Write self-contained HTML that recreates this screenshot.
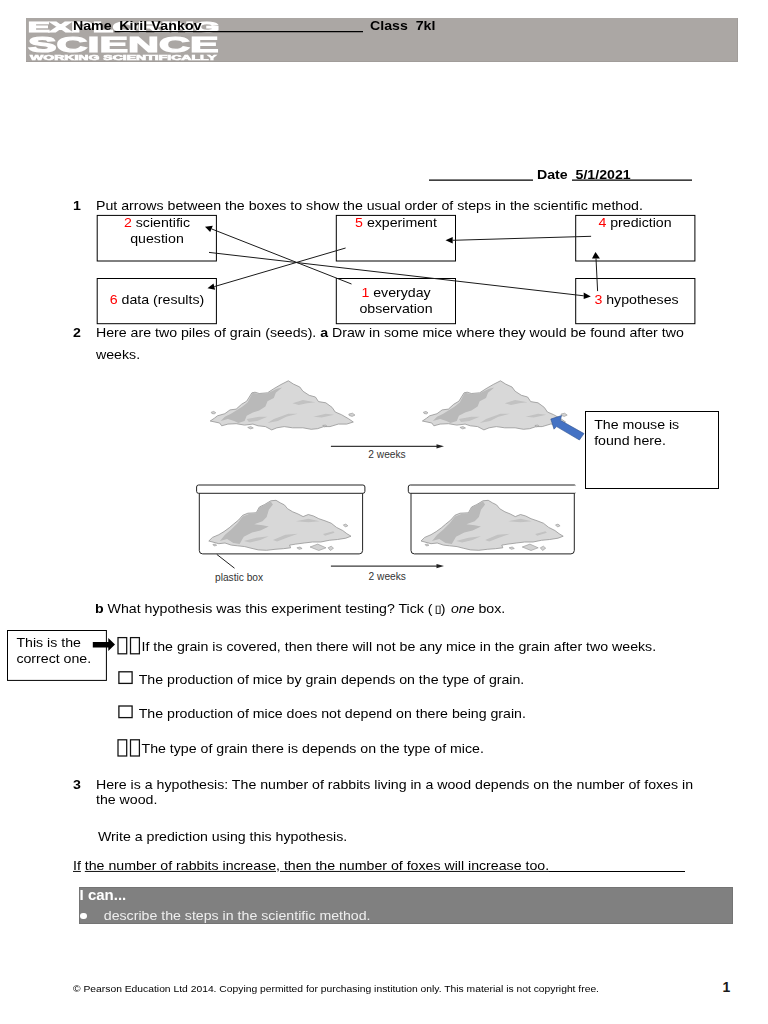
<!DOCTYPE html>
<html><head><meta charset="utf-8">
<style>
html,body{margin:0;padding:0;background:#fff;}
body{width:768px;height:1024px;position:relative;overflow:hidden;font-family:"Liberation Sans",sans-serif;color:#000;font-size:14.17px;}
.a{position:absolute;white-space:nowrap;line-height:1;}
.t{transform:scaleY(0.943);transform-origin:0 84.65%;}
.b{font-weight:bold;}
.r{color:#f00;}
.box{position:absolute;border:1px solid #000;box-sizing:border-box;background:transparent;}
.hdr{position:absolute;left:26px;top:18px;width:712px;height:44px;background:#aba7a4;box-shadow:inset -1px -1px 0 #a19d9a;}
.logo{position:absolute;color:#fff;font-weight:bold;white-space:nowrap;line-height:1;transform-origin:0 0;}
svg{position:absolute;left:0;top:0;}
</style></head><body>
<div class="hdr"></div>
<div class="logo" style="left:28.3px;top:19.5px;font-size:14.3px;transform:scale(2.27,1);-webkit-text-stroke:1.1px #fff;">EXPLORING</div>
<div class="logo" style="left:28.2px;top:33.1px;font-size:22.8px;transform:scale(1.88,1);-webkit-text-stroke:1.2px #fff;">SCIENCE</div>
<div class="logo" style="left:30px;top:55.2px;font-size:6.6px;transform:scale(2.13,1);-webkit-text-stroke:0.55px #fff;">WORKING SCIENTIFICALLY</div>

<div class="a b t" style="left:73px;top:17.9px;">Name</div>
<div class="a b t" style="left:119.2px;top:17.9px;letter-spacing:0.12px;">Kiril Vankov</div>
<div class="a b t" style="left:370px;top:17.9px;">Class&nbsp; 7kl</div>

<div class="a b t" style="left:537px;top:167.2px;">Date &nbsp;5/1/2021</div>

<div class="a b t" style="left:73px;top:197.7px;">1</div>
<div class="a t" style="left:96px;top:197.7px;">Put arrows between the boxes to show the usual order of steps in the scientific method.</div>


<div class="a t" style="left:97px;width:120px;top:214.9px;text-align:center;"><span class="r">2</span> scientific</div>
<div class="a t" style="left:97px;width:120px;top:231.0px;text-align:center;">question</div>
<div class="a t" style="left:336px;width:120px;top:214.9px;text-align:center;"><span class="r">5</span> experiment</div>
<div class="a t" style="left:575px;width:120px;top:214.9px;text-align:center;"><span class="r">4</span> prediction</div>
<div class="a t" style="left:97px;width:120px;top:292.3px;text-align:center;"><span class="r">6</span> data (results)</div>
<div class="a t" style="left:336px;width:120px;top:284.9px;text-align:center;"><span class="r">1</span> everyday</div>
<div class="a t" style="left:336px;width:120px;top:300.5px;text-align:center;">observation</div>
<div class="a t" style="left:576.5px;width:120px;top:292.3px;text-align:center;"><span class="r">3</span> hypotheses</div>

<div class="a b t" style="left:73px;top:324.7px;">2</div>
<div class="a t" style="left:96px;top:324.7px;">Here are two piles of grain (seeds). <b>a</b> Draw in some mice where they would be found after two</div>
<div class="a t" style="left:96px;top:347.2px;">weeks.</div>

<div class="box" style="left:585px;top:411px;width:134px;height:78px;"></div>
<div class="a t" style="left:594.2px;top:416.6px;">The mouse is</div>
<div class="a t" style="left:594.2px;top:432.5px;">found here.</div>

<div class="a t" style="left:95px;top:601.2px;"><b>b</b> What hypothesis was this experiment testing? Tick (<svg style="position:static;vertical-align:-1.6px" width="8.2" height="10" viewBox="0 0 8.2 10"><rect x="3.2" y="0.5" width="3.9" height="8" fill="none" stroke="#222" stroke-width="1"/></svg>)<span style="display:inline-block;width:1.5px"></span> <i>one</i> box.</div>

<div class="a t" style="left:16.4px;top:634.9px;">This is the</div>
<div class="a t" style="left:16.4px;top:650.8px;">correct one.</div>

<div class="a t" style="left:141.5px;top:638.7px;">If the grain is covered, then there will not be any mice in the grain after two weeks.</div>
<div class="a t" style="left:138.7px;top:671.8px;">The production of mice by grain depends on the type of grain.</div>
<div class="a t" style="left:138.7px;top:706.3px;">The production of mice does not depend on there being grain.</div>
<div class="a t" style="left:141.5px;top:740.9px;">The type of grain there is depends on the type of mice.</div>

<div class="a b t" style="left:73px;top:776.6px;">3</div>
<div class="a t" style="left:96px;top:776.6px;">Here is a hypothesis: The number of rabbits living in a wood depends on the number of foxes in</div>
<div class="a t" style="left:96px;top:791.6px;">the wood.</div>
<div class="a t" style="left:98px;top:828.8px;">Write a prediction using this hypothesis.</div>
<div class="a t" style="left:73px;top:858.3px;"><u>If</u> <u>the number of rabbits increase, then the number of foxes will increase too.</u></div>
<div class="a" style="left:549px;top:871px;width:136px;height:1px;background:#000;"></div>

<div class="a" style="left:78.5px;top:887px;width:654.5px;height:36.6px;background:#808080;box-shadow:inset 0 0 0 1px #747474;"></div>
<div class="a b t" style="left:79.6px;top:886.8px;color:#fff;font-size:15px;">I can...</div>
<div class="a" style="left:80.4px;top:913.2px;width:6.2px;height:6.2px;border-radius:50%;background:#fff;"></div>
<div class="a t" style="left:103.8px;top:907.5px;color:#eee;">describe the steps in the scientific method.</div>

<div class="a t" style="left:73px;top:984.1px;font-size:10.32px;">© Pearson Education Ltd 2014. Copying permitted for purchasing institution only. This material is not copyright free.</div>
<div class="a b" style="left:722.6px;top:979.8px;font-size:14px;color:#1a1a1a;">1</div>

<svg width="768" height="1024" viewBox="0 0 768 1024">
<defs><clipPath id="cp"><rect x="150" y="470" width="213.6" height="100"/></clipPath><filter id="bl" x="-5%" y="-5%" width="110%" height="110%"><feGaussianBlur stdDeviation="0.35"/></filter><filter id="bl2" x="-10%" y="-10%" width="120%" height="120%"><feGaussianBlur stdDeviation="0.7"/></filter></defs>
<line x1="429" y1="180.1" x2="533" y2="180.1" stroke="#000" stroke-width="1.2"/>
<line x1="572" y1="180.1" x2="692" y2="180.1" stroke="#000" stroke-width="1.2"/>
<line x1="114.5" y1="31.7" x2="363" y2="31.7" stroke="#000" stroke-width="1.3"/>
<rect x="97.2" y="215.4" width="119.2" height="45.6" fill="none" stroke="#000" stroke-width="1"/>
<rect x="97.2" y="278.5" width="119.2" height="45.2" fill="none" stroke="#000" stroke-width="1"/>
<rect x="336.3" y="215.4" width="119.2" height="45.6" fill="none" stroke="#000" stroke-width="1"/>
<rect x="336.3" y="278.5" width="119.2" height="45.2" fill="none" stroke="#000" stroke-width="1"/>
<rect x="575.7" y="215.4" width="119.2" height="45.6" fill="none" stroke="#000" stroke-width="1"/>
<rect x="575.7" y="278.5" width="119.2" height="45.2" fill="none" stroke="#000" stroke-width="1"/>
<line x1="351.5" y1="284" x2="211.5" y2="228.9" stroke="#1a1a1a" stroke-width="1"/>
<polygon points="205.0,226.7 212.8,225.8 210.2,232.1" fill="#000"/>
<line x1="209" y1="252.4" x2="583.7" y2="295.8" stroke="#1a1a1a" stroke-width="1"/>
<polygon points="590.8,296.4 583.7,292.5 583.7,299" fill="#000"/>
<line x1="345.6" y1="248" x2="214.3" y2="286.6" stroke="#1a1a1a" stroke-width="1"/>
<polygon points="207.5,288.2 213.5,283.5 215.1,289.7" fill="#000"/>
<line x1="591.1" y1="236.3" x2="452.7" y2="240.3" stroke="#1a1a1a" stroke-width="1"/>
<polygon points="445.5,240.2 452.7,237.1 452.7,243.6" fill="#000"/>
<line x1="597.6" y1="291.1" x2="596.0" y2="258.4" stroke="#1a1a1a" stroke-width="1"/>
<polygon points="595.5,251.9 592,258.4 599.9,258.4" fill="#000"/>
<g transform="translate(0,0)" filter="url(#bl)">
<path d="M210.2,421.0 L214.4,418.2 L217.5,415.8 L224.8,413.7 L230.0,409.9 L236.2,409.1 L241.5,404.3 L246.7,401.2 L251.9,392.8 L255.0,392.2 L259.2,393.5 L267.5,392.8 L273.8,388.7 L281.0,384.5 L288.3,380.8 L293.5,384.1 L299.8,387.0 L302.9,391.2 L309.2,395.3 L315.4,397.0 L318.5,401.6 L325.8,402.8 L332.1,407.4 L335.2,412.0 L341.5,414.7 L348.8,418.9 L353.3,422.0 L346.7,424.1 L338.3,424.1 L330.0,426.6 L323.8,426.6 L317.5,428.7 L311.2,429.3 L302.9,427.8 L292.5,427.8 L284.2,426.6 L276.9,427.8 L271.7,429.9 L265.4,426.6 L258.1,425.8 L252.9,424.1 L244.6,425.1 L236.2,423.7 L227.9,424.1 L221.7,425.8 L219.6,423.0Z" fill="#d8d8d8" stroke="#949494" stroke-width="0.8" stroke-linejoin="round"/>
<path d="M252.5,392.8 L259.2,393.9 L267.5,393.2 L276.9,388.7 L282.1,387.6 L275.8,392.8 L273.8,398.0 L267.5,401.2 L265.4,406.4 L259.2,410.5 L252.9,412.6 L246.7,415.8 L244.6,421.0 L238.3,423.0 L234.2,421.0 L227.9,418.9 L220.6,421.0 L224.8,416.8 L231.0,413.7 L236.2,410.5 L242.5,406.4 L247.7,402.2Z" fill="#b9b9b9" filter="url(#bl2)"/>
<path d="M273.8,418.9 L288.3,413.7 L297.7,413.7 L286.2,416.8 L277.9,421.0 L267.5,423.0Z" fill="#c2c2c2" filter="url(#bl2)"/>
<path d="M292.5,403.2 L302.9,400.1 L315.4,402.2 L307.1,403.2 L298.8,404.9Z" fill="#c2c2c2" filter="url(#bl2)"/>
<path d="M313.3,416.8 L325.8,413.7 L334.2,414.7 L321.7,417.4Z" fill="#c2c2c2" filter="url(#bl2)"/>
<path d="M246.7,418.9 L259.2,416.8 L267.5,416.8 L257.1,421.0 L248.8,422.0Z" fill="#c2c2c2" filter="url(#bl2)"/>
<path d="M211.2,412.2 L213.8,411.4 L215.8,412.8 L214.2,413.9 L211.9,413.5Z" fill="#d2d2d2" stroke="#949494" stroke-width="0.6"/>
<path d="M348.8,414.1 L352.5,413.2 L355.0,415.1 L352.1,416.4 L349.2,415.5Z" fill="#d2d2d2" stroke="#949494" stroke-width="0.6"/>
<path d="M247.7,427.4 L250.8,426.6 L253.3,428.0 L250.4,428.9Z" fill="#d2d2d2" stroke="#949494" stroke-width="0.6"/>
<path d="M322.7,425.5 L325.4,425.1 L326.9,426.2 L324.2,426.8Z" fill="#d2d2d2" stroke="#949494" stroke-width="0.6"/>
</g>
<g transform="translate(212.2,0)" filter="url(#bl)">
<path d="M210.2,421.0 L214.4,418.2 L217.5,415.8 L224.8,413.7 L230.0,409.9 L236.2,409.1 L241.5,404.3 L246.7,401.2 L251.9,392.8 L255.0,392.2 L259.2,393.5 L267.5,392.8 L273.8,388.7 L281.0,384.5 L288.3,380.8 L293.5,384.1 L299.8,387.0 L302.9,391.2 L309.2,395.3 L315.4,397.0 L318.5,401.6 L325.8,402.8 L332.1,407.4 L335.2,412.0 L341.5,414.7 L348.8,418.9 L353.3,422.0 L346.7,424.1 L338.3,424.1 L330.0,426.6 L323.8,426.6 L317.5,428.7 L311.2,429.3 L302.9,427.8 L292.5,427.8 L284.2,426.6 L276.9,427.8 L271.7,429.9 L265.4,426.6 L258.1,425.8 L252.9,424.1 L244.6,425.1 L236.2,423.7 L227.9,424.1 L221.7,425.8 L219.6,423.0Z" fill="#d8d8d8" stroke="#949494" stroke-width="0.8" stroke-linejoin="round"/>
<path d="M252.5,392.8 L259.2,393.9 L267.5,393.2 L276.9,388.7 L282.1,387.6 L275.8,392.8 L273.8,398.0 L267.5,401.2 L265.4,406.4 L259.2,410.5 L252.9,412.6 L246.7,415.8 L244.6,421.0 L238.3,423.0 L234.2,421.0 L227.9,418.9 L220.6,421.0 L224.8,416.8 L231.0,413.7 L236.2,410.5 L242.5,406.4 L247.7,402.2Z" fill="#b9b9b9" filter="url(#bl2)"/>
<path d="M273.8,418.9 L288.3,413.7 L297.7,413.7 L286.2,416.8 L277.9,421.0 L267.5,423.0Z" fill="#c2c2c2" filter="url(#bl2)"/>
<path d="M292.5,403.2 L302.9,400.1 L315.4,402.2 L307.1,403.2 L298.8,404.9Z" fill="#c2c2c2" filter="url(#bl2)"/>
<path d="M313.3,416.8 L325.8,413.7 L334.2,414.7 L321.7,417.4Z" fill="#c2c2c2" filter="url(#bl2)"/>
<path d="M246.7,418.9 L259.2,416.8 L267.5,416.8 L257.1,421.0 L248.8,422.0Z" fill="#c2c2c2" filter="url(#bl2)"/>
<path d="M211.2,412.2 L213.8,411.4 L215.8,412.8 L214.2,413.9 L211.9,413.5Z" fill="#d2d2d2" stroke="#949494" stroke-width="0.6"/>
<path d="M348.8,414.1 L352.5,413.2 L355.0,415.1 L352.1,416.4 L349.2,415.5Z" fill="#d2d2d2" stroke="#949494" stroke-width="0.6"/>
<path d="M247.7,427.4 L250.8,426.6 L253.3,428.0 L250.4,428.9Z" fill="#d2d2d2" stroke="#949494" stroke-width="0.6"/>
<path d="M322.7,425.5 L325.4,425.1 L326.9,426.2 L324.2,426.8Z" fill="#d2d2d2" stroke="#949494" stroke-width="0.6"/>
</g>
<g transform="translate(0,0)" filter="url(#bl)">
<path d="M208.8,541.0 L212.5,537.4 L218.8,534.7 L224.0,531.6 L229.2,527.8 L233.3,524.3 L238.5,520.1 L242.7,515.3 L247.9,513.2 L256.2,512.8 L259.4,507.0 L264.6,504.5 L270.8,500.8 L276.0,500.3 L280.2,502.8 L284.4,504.9 L287.5,508.7 L292.7,511.8 L297.9,513.9 L303.1,516.6 L308.3,514.5 L313.5,516.0 L318.8,518.7 L325.0,520.8 L331.2,523.2 L336.5,527.4 L342.7,530.5 L346.9,533.7 L351.0,536.2 L345.8,538.2 L337.5,539.5 L329.2,540.3 L320.8,542.0 L312.5,542.0 L304.2,543.0 L295.8,544.1 L289.6,545.1 L290.6,547.8 L283.3,548.7 L275.0,549.3 L266.7,550.3 L258.3,549.9 L251.0,548.2 L244.8,546.6 L237.5,545.8 L231.2,545.1 L225.0,543.0 L218.8,543.7Z" fill="#d8d8d8" stroke="#949494" stroke-width="0.8" stroke-linejoin="round"/>
<path d="M259.4,507.6 L270.8,501.4 L272.9,504.5 L268.8,509.7 L266.7,517.0 L262.5,521.2 L254.2,524.3 L262.5,525.3 L268.8,526.4 L260.4,530.5 L252.1,532.6 L243.8,536.8 L239.6,544.1 L233.3,543.0 L227.1,538.9 L219.8,541.0 L225.0,534.7 L231.2,529.5 L237.5,523.2 L242.7,516.6 L249.0,513.9 L256.2,513.2Z" fill="#b9b9b9" filter="url(#bl2)"/>
<path d="M243.8,541.0 L256.2,537.8 L268.8,536.2 L260.4,539.9 L250.0,542.4Z" fill="#c2c2c2" filter="url(#bl2)"/>
<path d="M272.9,539.9 L285.4,534.7 L297.9,533.7 L287.5,537.4 L277.1,541.6Z" fill="#c2c2c2" filter="url(#bl2)"/>
<path d="M295.8,521.2 L308.3,518.7 L319.8,521.2 L308.3,522.2Z" fill="#c2c2c2" filter="url(#bl2)"/>
<path d="M322.9,534.1 L333.3,531.2 L334.6,532.8 L325.0,535.8Z" fill="#c2c2c2" filter="url(#bl2)"/>
<path d="M343.3,524.9 L345.8,524.1 L347.9,525.8 L345.4,527.0Z" fill="#d2d2d2" stroke="#949494" stroke-width="0.6"/>
<path d="M212.9,544.5 L215.4,544.1 L216.7,545.3 L214.2,546.0Z" fill="#d2d2d2" stroke="#949494" stroke-width="0.6"/>
<path d="M296.9,547.8 L300.0,547.0 L302.1,548.5 L299.2,549.3Z" fill="#d2d2d2" stroke="#949494" stroke-width="0.6"/>
<path d="M310.0,547.0 L317.7,544.1 L326.0,547.8 L318.8,550.5Z" fill="#d2d2d2" stroke="#949494" stroke-width="0.6"/>
<path d="M328.1,547.8 L331.2,546.2 L333.5,548.2 L330.4,550.5Z" fill="#d2d2d2" stroke="#949494" stroke-width="0.6"/>
</g>
<g transform="translate(212.2,0)" filter="url(#bl)">
<path d="M208.8,541.0 L212.5,537.4 L218.8,534.7 L224.0,531.6 L229.2,527.8 L233.3,524.3 L238.5,520.1 L242.7,515.3 L247.9,513.2 L256.2,512.8 L259.4,507.0 L264.6,504.5 L270.8,500.8 L276.0,500.3 L280.2,502.8 L284.4,504.9 L287.5,508.7 L292.7,511.8 L297.9,513.9 L303.1,516.6 L308.3,514.5 L313.5,516.0 L318.8,518.7 L325.0,520.8 L331.2,523.2 L336.5,527.4 L342.7,530.5 L346.9,533.7 L351.0,536.2 L345.8,538.2 L337.5,539.5 L329.2,540.3 L320.8,542.0 L312.5,542.0 L304.2,543.0 L295.8,544.1 L289.6,545.1 L290.6,547.8 L283.3,548.7 L275.0,549.3 L266.7,550.3 L258.3,549.9 L251.0,548.2 L244.8,546.6 L237.5,545.8 L231.2,545.1 L225.0,543.0 L218.8,543.7Z" fill="#d8d8d8" stroke="#949494" stroke-width="0.8" stroke-linejoin="round"/>
<path d="M259.4,507.6 L270.8,501.4 L272.9,504.5 L268.8,509.7 L266.7,517.0 L262.5,521.2 L254.2,524.3 L262.5,525.3 L268.8,526.4 L260.4,530.5 L252.1,532.6 L243.8,536.8 L239.6,544.1 L233.3,543.0 L227.1,538.9 L219.8,541.0 L225.0,534.7 L231.2,529.5 L237.5,523.2 L242.7,516.6 L249.0,513.9 L256.2,513.2Z" fill="#b9b9b9" filter="url(#bl2)"/>
<path d="M243.8,541.0 L256.2,537.8 L268.8,536.2 L260.4,539.9 L250.0,542.4Z" fill="#c2c2c2" filter="url(#bl2)"/>
<path d="M272.9,539.9 L285.4,534.7 L297.9,533.7 L287.5,537.4 L277.1,541.6Z" fill="#c2c2c2" filter="url(#bl2)"/>
<path d="M295.8,521.2 L308.3,518.7 L319.8,521.2 L308.3,522.2Z" fill="#c2c2c2" filter="url(#bl2)"/>
<path d="M322.9,534.1 L333.3,531.2 L334.6,532.8 L325.0,535.8Z" fill="#c2c2c2" filter="url(#bl2)"/>
<path d="M343.3,524.9 L345.8,524.1 L347.9,525.8 L345.4,527.0Z" fill="#d2d2d2" stroke="#949494" stroke-width="0.6"/>
<path d="M212.9,544.5 L215.4,544.1 L216.7,545.3 L214.2,546.0Z" fill="#d2d2d2" stroke="#949494" stroke-width="0.6"/>
<path d="M296.9,547.8 L300.0,547.0 L302.1,548.5 L299.2,549.3Z" fill="#d2d2d2" stroke="#949494" stroke-width="0.6"/>
<path d="M310.0,547.0 L317.7,544.1 L326.0,547.8 L318.8,550.5Z" fill="#d2d2d2" stroke="#949494" stroke-width="0.6"/>
<path d="M328.1,547.8 L331.2,546.2 L333.5,548.2 L330.4,550.5Z" fill="#d2d2d2" stroke="#949494" stroke-width="0.6"/>
</g>
<g transform="translate(0,0)" fill="none" stroke="#222" stroke-width="1">
<path d="M199.3,493 L199.3,550.5 Q199.3,553.9 202.7,553.9 L359.2,553.9 Q362.6,553.9 362.6,550.5 L362.6,493"/>
<rect x="196.6" y="485" width="168.3" height="8.3" rx="2" ry="2" fill="#fff"/>
</g>
<g transform="translate(211.7,0)" fill="none" stroke="#222" stroke-width="1" clip-path="url(#cp)">
<path d="M199.3,493 L199.3,550.5 Q199.3,553.9 202.7,553.9 L359.2,553.9 Q362.6,553.9 362.6,550.5 L362.6,493"/>
<rect x="196.6" y="485" width="168.3" height="8.3" rx="2" ry="2" fill="#fff"/>
</g>
<line x1="216.8" y1="554.4" x2="234.5" y2="568.2" stroke="#222" stroke-width="1"/>
<line x1="330.9" y1="446.3" x2="438" y2="446.3" stroke="#3a3a3a" stroke-width="1.3"/>
<polygon points="444,446.3 436.5,444.2 436.5,448.40000000000003" fill="#222"/>
<line x1="330.9" y1="566.1" x2="438" y2="566.1" stroke="#3a3a3a" stroke-width="1.3"/>
<polygon points="444,566.1 436.5,564.0 436.5,568.2" fill="#222"/>
<text x="368.3" y="458.3" font-family="Liberation Sans, sans-serif" font-size="10.2" fill="#333">2 weeks</text>
<text x="368.6" y="579.5" font-family="Liberation Sans, sans-serif" font-size="10.2" fill="#333">2 weeks</text>
<text x="215" y="580.6" font-family="Liberation Sans, sans-serif" font-size="10.2" fill="#333">plastic box</text>
<polygon points="550.8,419 561.5,415.6 560.4,420.3 584,433.6 579.4,440 556.6,426.6 554,429.2" fill="#4472c4" stroke="#2f528f" stroke-width="0.6"/>
<rect x="118" y="637.6" width="8.7" height="16.2" fill="none" stroke="#111" stroke-width="1.25"/>
<rect x="130.5" y="637.6" width="8.9" height="16.2" fill="none" stroke="#111" stroke-width="1.25"/>
<rect x="118" y="739.8" width="8.7" height="16.2" fill="none" stroke="#111" stroke-width="1.25"/>
<rect x="130.5" y="739.8" width="8.9" height="16.2" fill="none" stroke="#111" stroke-width="1.25"/>
<rect x="118.9" y="671.8" width="13.2" height="11.6" fill="none" stroke="#111" stroke-width="1.3"/>
<rect x="118.9" y="706" width="13.2" height="11.6" fill="none" stroke="#111" stroke-width="1.3"/>
<rect x="7.5" y="630.5" width="98.9" height="49.9" fill="none" stroke="#000" stroke-width="1"/>
<polygon points="92.8,641.9 108.3,641.9 108.3,638 115,644.6 108.3,651.1 108.3,647.5 92.8,647.5" fill="#000"/>
</svg>
</body></html>
